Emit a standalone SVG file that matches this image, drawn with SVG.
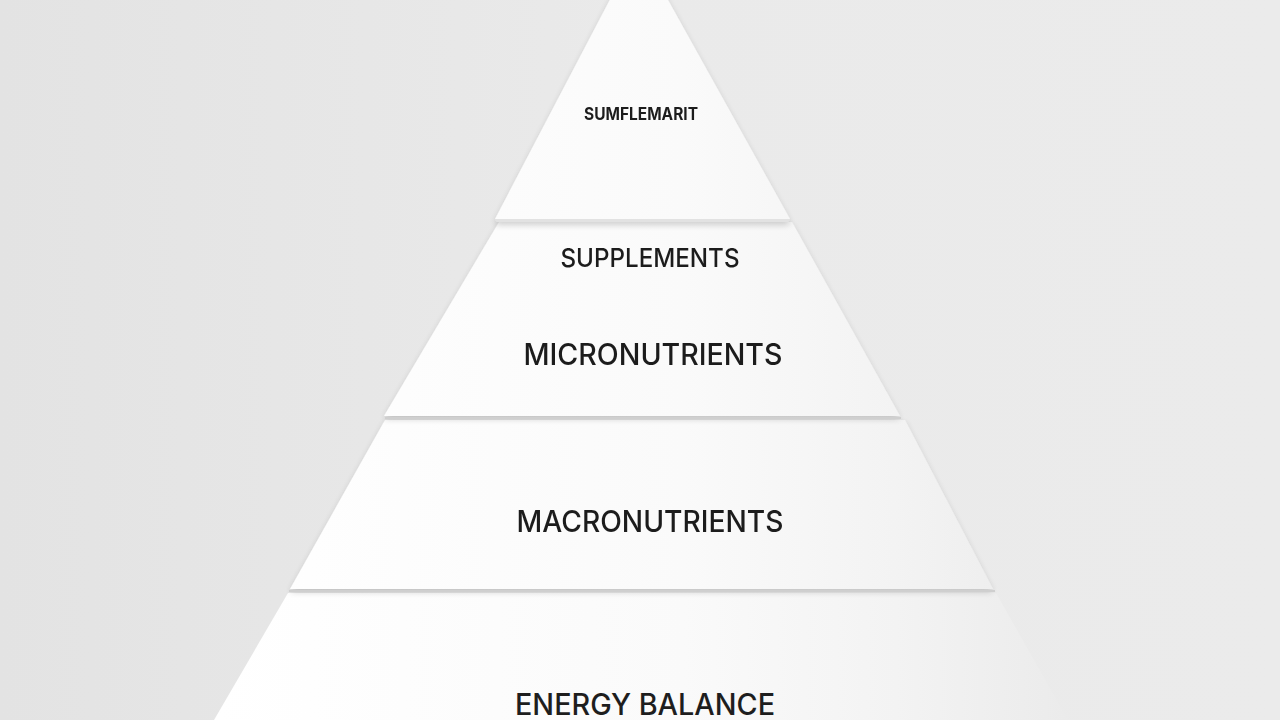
<svg xmlns="http://www.w3.org/2000/svg" width="1280" height="720" viewBox="0 0 1280 720">
<defs>
<linearGradient id="bg" x1="0" y1="0" x2="1" y2="0">
<stop offset="0" stop-color="#e3e3e3"/>
<stop offset="0.5" stop-color="#eaeaea"/>
<stop offset="1" stop-color="#ebebeb"/>
</linearGradient>
<linearGradient id="tier" gradientUnits="userSpaceOnUse" x1="216" y1="0" x2="1066" y2="0">
<stop offset="0" stop-color="#ffffff"/>
<stop offset="0.55" stop-color="#fafafa"/>
<stop offset="0.8" stop-color="#f3f3f3"/>
<stop offset="1" stop-color="#ebebeb"/>
</linearGradient>
<filter id="sh" x="-10%" y="-10%" width="120%" height="130%">
<feGaussianBlur in="SourceAlpha" stdDeviation="3"/>
<feOffset dx="0" dy="3" result="b"/>
<feComponentTransfer><feFuncA type="linear" slope="0.18"/></feComponentTransfer>
<feMerge><feMergeNode/><feMergeNode in="SourceGraphic"/></feMerge>
</filter>
<style>
.t{fill:url(#tier);}
.lbl{font-family:Inter,"Liberation Sans",sans-serif;font-weight:500;fill:#1e1e1e;text-anchor:middle;}
.top{font-weight:700;}
.sep{stroke:#cfcfcf;stroke-width:2;}
</style>
</defs>
<rect width="1280" height="720" fill="url(#bg)"/>
<g id="tier-energy">
<polygon class="t" points="288,593 996,593 1068,720 214,720"/>
<text class="lbl" x="645" y="715" font-size="30" textLength="260" lengthAdjust="spacingAndGlyphs">ENERGY BALANCE</text>
</g>
<g id="tier-macro" filter="url(#sh)">
<polygon class="t" points="385,420 905,420 993,589 290,589"/>
<text class="lbl" x="650" y="532" font-size="30" textLength="267" lengthAdjust="spacingAndGlyphs">MACRONUTRIENTS</text>
</g>
<g id="tier-micro" filter="url(#sh)">
<polygon class="t" points="499,222 792,222 900,416 384,416"/>
<text class="lbl" x="653" y="365" font-size="30" textLength="259" lengthAdjust="spacingAndGlyphs">MICRONUTRIENTS</text>
<text class="lbl" x="650" y="267" font-size="25" textLength="179" lengthAdjust="spacingAndGlyphs">SUPPLEMENTS</text>
</g>
<g id="tier-top" filter="url(#sh)">
<polygon class="t" points="638,-54 790,219 495,219"/>
<polygon points="495,219 790,219 788,222 497,222" fill="#e2e2e2"/>
<text class="lbl top" x="641" y="120" font-size="17" textLength="114" lengthAdjust="spacingAndGlyphs">SUMFLEMARIT</text>
</g>
<g id="connectors">
<line class="sep" x1="385" y1="418" x2="901" y2="418"/>
<line class="sep" x1="289" y1="591" x2="995" y2="591"/>
</g>
</svg>
